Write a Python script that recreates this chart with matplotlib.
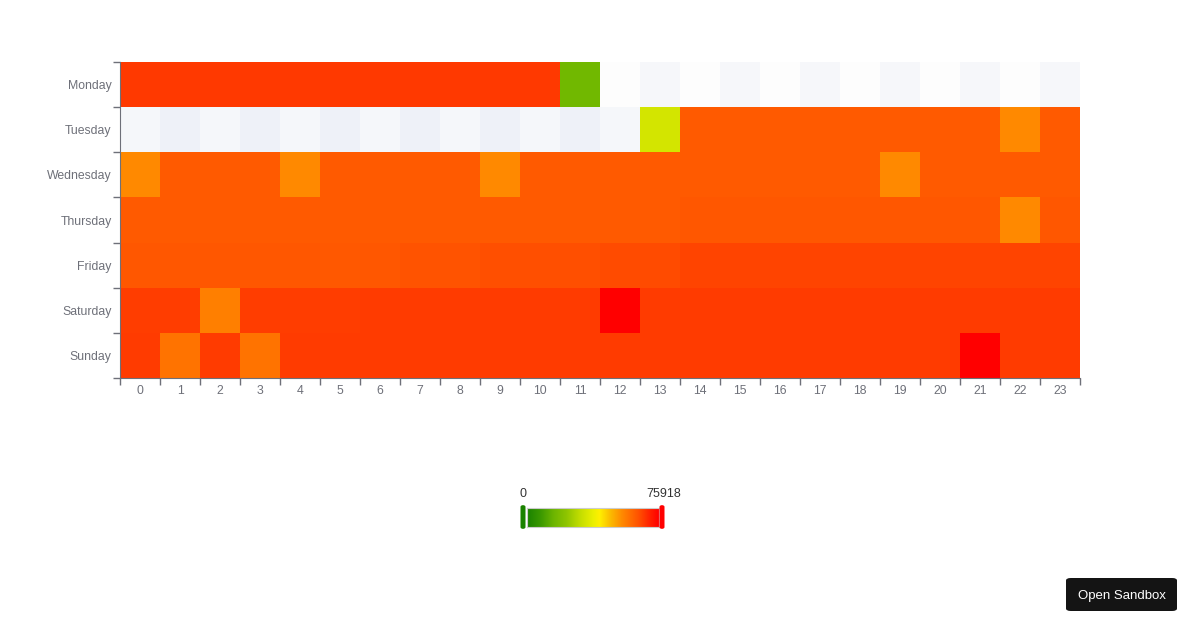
import matplotlib.pyplot as plt
import numpy as np
from matplotlib.colors import LinearSegmentedColormap
from matplotlib.patches import FancyBboxPatch

plt.rcParams['font.family'] = ['Liberation Sans', 'DejaVu Sans']

# data: one list per weekday, None = no record for that hour
hours = [str(h) for h in range(24)]
days = ['Monday', 'Tuesday', 'Wednesday', 'Thursday', 'Friday', 'Saturday', 'Sunday']
vmin, vmax = 0, 75918

monday = [67400] * 11 + [16500] + [None] * 12
tuesday = [None] * 13 + [33800] + [62850] * 8 + [54660, 62850]
wednesday = [54660, 62850, 62850, 62850, 54660, 62850, 62850, 62850, 62850, 54660,
             62850, 62850, 62850, 62850, 62850, 62850, 62850, 62850, 62850, 54660,
             62850, 62850, 62850, 62850]
thursday = [62850] * 14 + [63300] * 8 + [54660, 63300]
friday = [63300, 63300, 63300, 63300, 63300, 62900, 63400, 63900, 63900, 64600,
          64600, 64400, 65000, 65000, 66000, 66000, 66000, 66000, 66000, 66000,
          66000, 66000, 66000, 66000]
saturday = [66900, 66900, 56400, 66900, 66900, 66900, 67200, 67200, 67200, 67200,
            67200, 67200, 75918, 67200, 67200, 67200, 67200, 67200, 67200, 67200,
            67200, 67200, 67200, 67200]
sunday = [67300, 58600, 67300, 58600] + [67300] * 17 + [75918, 67300, 67300]

rows = [monday, tuesday, wednesday, thursday, friday, saturday, sunday]
grid = np.array([[np.nan if v is None else v for v in r] for r in rows], dtype=float)

# visualMap-like palette: green -> yellow -> red
cmap = LinearSegmentedColormap.from_list('vm', [
    (0.0, '#1a8200'), (0.1, '#3a9800'), (0.2, '#6cb500'), (0.3, '#8fc500'),
    (0.4, '#c2dd00'), (0.5, '#eaef00'), (0.55, '#fff000'), (0.63, '#fbbd00'),
    (0.72, '#ff8a00'), (0.85, '#ff5000'), (0.93, '#ff2200'), (1.0, '#ff0000')])

W, H = 1200, 630
fig = plt.figure(figsize=(12, 6.3), dpi=100)
ax = fig.add_axes([120 / W, 1 - 378 / H, 960 / W, 316 / H])

axis_col = '#6e7079'

# split areas behind the cells
light = (250 / 255, 250 / 255, 250 / 255, 0.2)
dark = (210 / 255, 219 / 255, 238 / 255, 0.2)
for i in range(len(hours)):
    ax.axvspan(i - 0.5, i + 0.5, color=light if i % 2 == 0 else dark, lw=0, zorder=0)
for j in range(len(days)):
    ax.axhspan(j - 0.5, j + 0.5, color=light if j % 2 == 0 else dark, lw=0, zorder=0)

masked = np.ma.masked_invalid(grid)
ax.pcolormesh(np.arange(-0.5, 24, 1), np.arange(-0.5, 7, 1), masked, cmap=cmap,
              vmin=vmin, vmax=vmax, zorder=1, edgecolors='none')

ax.set_xlim(-0.5, 23.5)
ax.set_ylim(6.5, -0.5)
ax.set_xticks(range(24))
ax.set_xticklabels(hours)
ax.set_yticks(range(7))
ax.set_yticklabels(days)
ax.set_xticks(np.arange(-0.5, 24, 1), minor=True)
ax.set_yticks(np.arange(-0.5, 7, 1), minor=True)
ax.tick_params(which='major', length=0, colors=axis_col, labelsize=8.8)
ax.tick_params(axis='x', which='major', pad=5)
ax.tick_params(axis='y', which='major', pad=6)
ax.tick_params(which='minor', length=5, color=axis_col, width=1)
for side in ['top', 'right']:
    ax.spines[side].set_visible(False)
for side in ['left', 'bottom']:
    ax.spines[side].set_color(axis_col)
    ax.spines[side].set_zorder(3)

# continuous legend bar
cax = fig.add_axes([527 / W, 1 - 527 / H, 132 / W, 19 / H])
cax.imshow(np.linspace(0, 1, 256).reshape(1, -1), cmap=cmap, aspect='auto',
           extent=[0, 1, 0, 1])
cax.set_xticks([])
cax.set_yticks([])
for s in cax.spines.values():
    s.set_color('#cccccc')

for x0, col in [(520.5, '#1a8200'), (659.5, '#ff0000')]:
    fig.patches.append(FancyBboxPatch((x0 / W, 1 - 529 / H), 5 / W, 24 / H,
                                      boxstyle='round,pad=0,rounding_size=0.003',
                                      transform=fig.transFigure, fc=col, ec='none'))
fig.text(523 / W, 1 - 494 / H, str(vmin), ha='center', va='center', fontsize=9, color='#333333')
fig.text(664 / W, 1 - 494 / H, str(vmax), ha='center', va='center', fontsize=9, color='#333333')

# sandbox button
fig.patches.append(FancyBboxPatch((1066 / W, 1 - 611 / H), 111 / W, 33 / H,
                                  boxstyle='round,pad=0,rounding_size=0.004',
                                  transform=fig.transFigure, fc='#141414', ec='none'))
fig.text(1121.5 / W, 1 - 596.5 / H, 'Open Sandbox', ha='center', va='center',
         fontsize=9.5, color='white')

fig.savefig('out.png', dpi=100)
